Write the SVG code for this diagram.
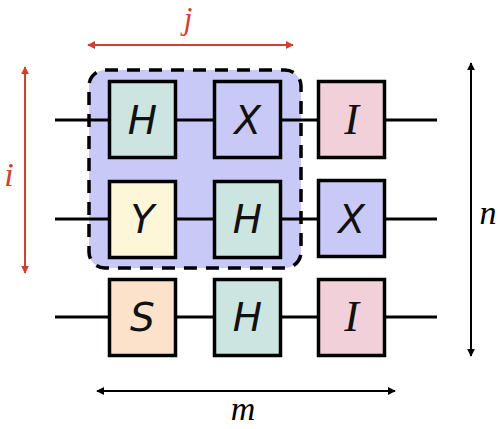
<svg xmlns="http://www.w3.org/2000/svg" width="500" height="429" viewBox="0 0 500 429">
<defs>
<marker id="ar" viewBox="0 0 10 10" refX="9" refY="5" markerWidth="4" markerHeight="4" orient="auto-start-reverse"><path d="M0,0 L10,5 L0,10 z" fill="#d1402c"/></marker>
<marker id="ab" viewBox="0 0 10 10" refX="9" refY="5" markerWidth="4" markerHeight="4" orient="auto-start-reverse"><path d="M0,0 L10,5 L0,10 z" fill="#000"/></marker>
</defs>
<style>
.wire{stroke:#000;stroke-width:3;fill:none}
.gate{stroke:#000;stroke-width:3.5}
.g{font-family:"DejaVu Sans",sans-serif;font-style:oblique;font-size:39px;fill:#111;text-anchor:middle}
.gi{font-family:"Liberation Serif",serif;font-style:italic;font-size:44px;fill:#111;text-anchor:middle}
.lbl{font-family:"Liberation Serif",serif;font-style:italic;font-size:34px;text-anchor:middle}
.H{fill:#cde5e0}.X{fill:#c9c9f8}.I{fill:#f1d0da}.Y{fill:#fdf6d8}.S{fill:#fce2ca}
</style>
<g id="region">
<rect x="89" y="70" width="212" height="198" rx="16" fill="#c9c9f8" stroke="#000" stroke-width="3.5" stroke-dasharray="13,9"/>
</g>
<g id="connectors">
<line class="wire" x1="55" y1="120" x2="437" y2="120"/>
<line class="wire" x1="55" y1="219" x2="437" y2="219"/>
<line class="wire" x1="55" y1="317" x2="437" y2="317"/>
<line stroke="#d1402c" stroke-width="2" x1="88" y1="45" x2="293" y2="45" marker-start="url(#ar)" marker-end="url(#ar)"/>
<line stroke="#d1402c" stroke-width="2" x1="25" y1="67" x2="25" y2="273" marker-start="url(#ar)" marker-end="url(#ar)"/>
<line stroke="#000" stroke-width="2" x1="471" y1="63" x2="471" y2="356" marker-start="url(#ab)" marker-end="url(#ab)"/>
<line stroke="#000" stroke-width="2" x1="97" y1="391" x2="395" y2="391" marker-start="url(#ab)" marker-end="url(#ab)"/>
</g>
<g id="g11"><rect class="gate H" x="109.5" y="81.5" width="66" height="76"/><text class="g" x="142.5" y="134">H</text></g>
<g id="g12"><rect class="gate X" x="214.5" y="81.5" width="66" height="76"/><text class="g" x="247.5" y="134">X</text></g>
<g id="g13"><rect class="gate I" x="318.5" y="81.5" width="66" height="76"/><text class="gi" x="351.5" y="134">I</text></g>
<g id="g21"><rect class="gate Y" x="109.5" y="181.5" width="66" height="76"/><text class="g" x="142.5" y="233">Y</text></g>
<g id="g22"><rect class="gate H" x="214.5" y="181.5" width="66" height="76"/><text class="g" x="247.5" y="233">H</text></g>
<g id="g23"><rect class="gate X" x="318.5" y="180.5" width="66" height="76"/><text class="g" x="351.5" y="233">X</text></g>
<g id="g31"><rect class="gate S" x="109.5" y="279.5" width="66" height="76"/><text class="g" x="142.5" y="331">S</text></g>
<g id="g32"><rect class="gate H" x="214.5" y="279.5" width="66" height="76"/><text class="g" x="247.5" y="331">H</text></g>
<g id="g33"><rect class="gate I" x="318.5" y="279.5" width="66" height="76"/><text class="gi" x="351.5" y="331">I</text></g>
<g id="labels">
<text class="lbl" x="188" y="29" fill="#d1402c" style="font-size:31px">j</text>
<text class="lbl" x="9" y="186" fill="#d1402c">i</text>
<text class="lbl" x="488" y="224" fill="#000">n</text>
<text class="lbl" x="243" y="420" fill="#000">m</text>
</g>
</svg>
